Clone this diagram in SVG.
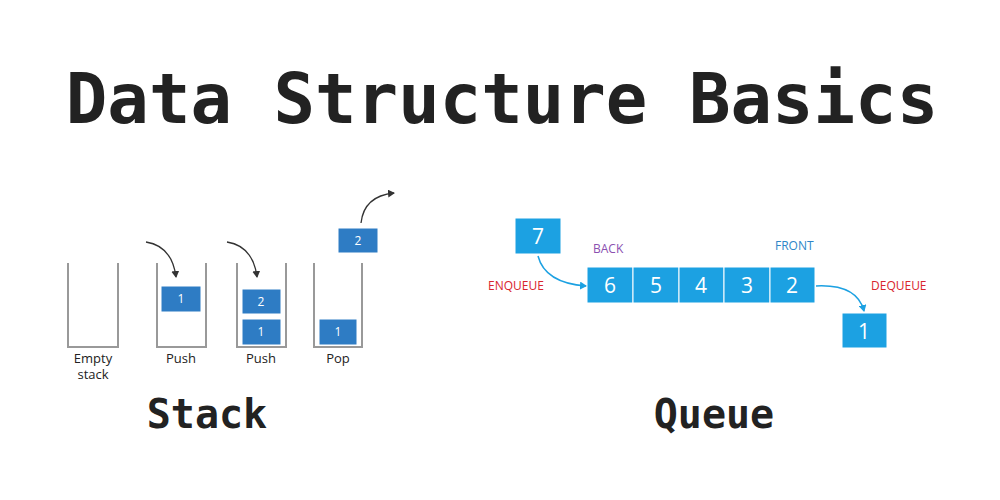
<svg xmlns="http://www.w3.org/2000/svg" width="1000" height="500" viewBox="0 0 1000 500">
<style>
.title{font-family:"DejaVu Sans Mono",monospace;font-weight:bold;fill:#222;text-anchor:middle}
.cont{fill:none;stroke:#999;stroke-width:2}
.sb{fill:#2e7cc4;stroke:#fff;stroke-width:1}
.st{font-family:"Open Sans","DejaVu Sans",sans-serif;font-size:12px;fill:#fff;text-anchor:middle}
.lbl{font-family:"Open Sans","DejaVu Sans",sans-serif;font-size:13px;fill:#222;text-anchor:middle}
.qb{fill:#1ca1e2;stroke:#fff;stroke-width:1}
.qt{font-family:"Open Sans","DejaVu Sans",sans-serif;font-size:21px;fill:#fff;text-anchor:middle}
.ql{font-family:"Open Sans","DejaVu Sans",sans-serif;font-size:12px}
.blk{fill:none;stroke:#333;stroke-width:1.3}
.blu{fill:none;stroke:#1ca1e2;stroke-width:1.5}
</style>
<defs>
<marker id="ab" markerWidth="8" markerHeight="8" refX="6" refY="4" orient="auto" markerUnits="userSpaceOnUse"><path d="M0,0 L7,4 L0,8 z" fill="#333"/></marker>
<marker id="aq" markerWidth="8" markerHeight="8" refX="6" refY="4" orient="auto" markerUnits="userSpaceOnUse"><path d="M0,0 L7,4 L0,8 z" fill="#1ca1e2"/></marker>
</defs>
<rect width="1000" height="500" fill="#fff"/>
<text class="title" x="502" y="123" font-size="69">Data Structure Basics</text>
<text class="title" x="207" y="428" font-size="40">Stack</text>
<text class="title" x="714" y="428" font-size="40">Queue</text>
<g id="empty"><path class="cont" d="M68,263 V347 H118 V263"/><text class="lbl" x="93" y="363">Empty</text><text class="lbl" x="93" y="379">stack</text></g>
<g id="push1"><path class="cont" d="M157,263 V347 H206 V263"/><rect class="sb" x="161" y="286" width="40" height="26"/><text class="st" x="181" y="303">1</text><text class="lbl" x="181" y="363">Push</text></g>
<g id="push2"><path class="cont" d="M237,263 V347 H286 V263"/><rect class="sb" x="242" y="289" width="39" height="25"/><text class="st" x="261" y="306">2</text><rect class="sb" x="242" y="319" width="39" height="26"/><text class="st" x="261" y="336">1</text><text class="lbl" x="261" y="363">Push</text></g>
<g id="pop"><path class="cont" d="M314,263 V347 H362 V263"/><rect class="sb" x="319" y="319" width="38" height="26"/><text class="st" x="338" y="336">1</text><rect class="sb" x="338" y="228" width="40" height="25"/><text class="st" x="358" y="245">2</text><text class="lbl" x="338" y="363">Pop</text></g>
<g id="q7"><rect class="qb" x="515" y="218" width="46" height="36"/><text class="qt" x="538" y="244">7</text></g>
<g id="queue">
<rect class="qb" x="587" y="267" width="46" height="36"/><text class="qt" x="610" y="293">6</text>
<rect class="qb" x="633" y="267" width="46" height="36"/><text class="qt" x="656" y="293">5</text>
<rect class="qb" x="679" y="267" width="45" height="36"/><text class="qt" x="701" y="293">4</text>
<rect class="qb" x="724" y="267" width="46" height="36"/><text class="qt" x="747" y="293">3</text>
<rect class="qb" x="770" y="267" width="45" height="36"/><text class="qt" x="792" y="293">2</text>
</g>
<g id="q1"><rect class="qb" x="842" y="313" width="45" height="35"/><text class="qt" x="864" y="339">1</text></g>
<text class="ql" x="593" y="253" fill="#8b4fb0">BACK</text>
<text class="ql" x="775" y="250" fill="#2e86c8">FRONT</text>
<text class="ql" x="488" y="290" fill="#d9262e">ENQUEUE</text>
<text class="ql" x="871" y="290" fill="#d9262e">DEQUEUE</text>
<g id="connectors">
<path class="blk" d="M146,242 Q172,246 176,277" marker-end="url(#ab)"/>
<path class="blk" d="M227,242 Q253,246 257,277" marker-end="url(#ab)"/>
<path class="blk" d="M361,223 Q364,196 394,193" marker-end="url(#ab)"/>
<path class="blu" d="M538,256 Q545,283 586,286" marker-end="url(#aq)"/>
<path class="blu" d="M816,286 Q857,284 864,311" marker-end="url(#aq)"/>
</g>
</svg>
